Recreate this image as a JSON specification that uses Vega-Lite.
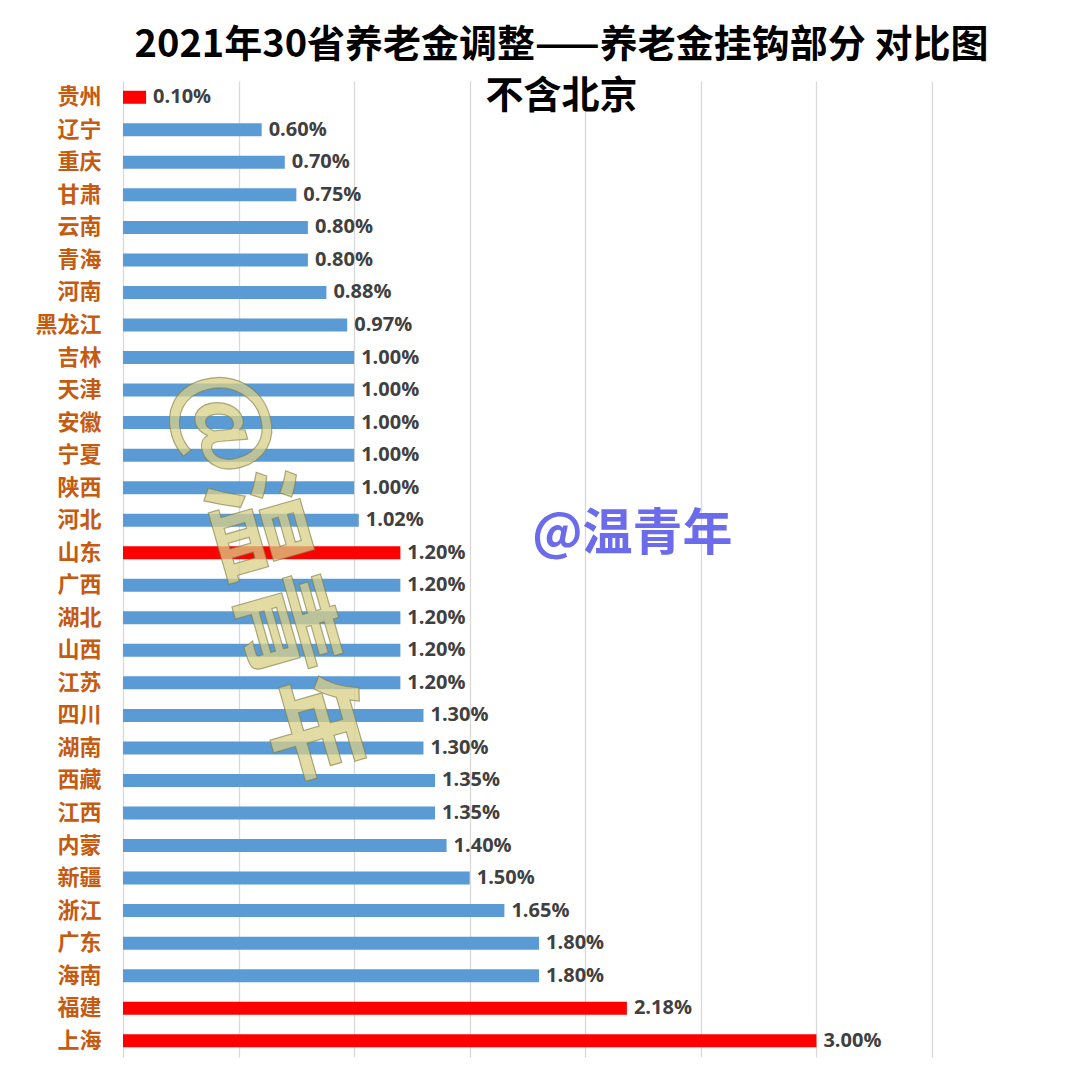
{
  "$schema": "https://vega.github.io/schema/vega-lite/v6.json",
  "autosize": "none",
  "width": 809,
  "height": 976,
  "padding": {"left": 123, "top": 81, "right": 148, "bottom": 14},
  "background": "white",
  "title": {
    "text": ["2021年30省养老金调整——养老金挂钩部分  对比图", "不含北京"],
    "anchor": "middle",
    "dx": 34,
    "offset": -35,
    "lineHeight": 51,
    "font": "Noto Sans CJK SC",
    "fontSize": 38,
    "fontWeight": "bold",
    "color": "#000000"
  },
  "config": {
    "view": {"stroke": null},
    "axis": {"domain": false, "ticks": false}
  },
  "datasets": {
    "省份数据": [
      {"省份": "贵州", "挂钩比例": 0.0010, "标注": "是"},
      {"省份": "辽宁", "挂钩比例": 0.0060, "标注": "否"},
      {"省份": "重庆", "挂钩比例": 0.0070, "标注": "否"},
      {"省份": "甘肃", "挂钩比例": 0.0075, "标注": "否"},
      {"省份": "云南", "挂钩比例": 0.0080, "标注": "否"},
      {"省份": "青海", "挂钩比例": 0.0080, "标注": "否"},
      {"省份": "河南", "挂钩比例": 0.0088, "标注": "否"},
      {"省份": "黑龙江", "挂钩比例": 0.0097, "标注": "否"},
      {"省份": "吉林", "挂钩比例": 0.0100, "标注": "否"},
      {"省份": "天津", "挂钩比例": 0.0100, "标注": "否"},
      {"省份": "安徽", "挂钩比例": 0.0100, "标注": "否"},
      {"省份": "宁夏", "挂钩比例": 0.0100, "标注": "否"},
      {"省份": "陕西", "挂钩比例": 0.0100, "标注": "否"},
      {"省份": "河北", "挂钩比例": 0.0102, "标注": "否"},
      {"省份": "山东", "挂钩比例": 0.0120, "标注": "是"},
      {"省份": "广西", "挂钩比例": 0.0120, "标注": "否"},
      {"省份": "湖北", "挂钩比例": 0.0120, "标注": "否"},
      {"省份": "山西", "挂钩比例": 0.0120, "标注": "否"},
      {"省份": "江苏", "挂钩比例": 0.0120, "标注": "否"},
      {"省份": "四川", "挂钩比例": 0.0130, "标注": "否"},
      {"省份": "湖南", "挂钩比例": 0.0130, "标注": "否"},
      {"省份": "西藏", "挂钩比例": 0.0135, "标注": "否"},
      {"省份": "江西", "挂钩比例": 0.0135, "标注": "否"},
      {"省份": "内蒙", "挂钩比例": 0.0140, "标注": "否"},
      {"省份": "新疆", "挂钩比例": 0.0150, "标注": "否"},
      {"省份": "浙江", "挂钩比例": 0.0165, "标注": "否"},
      {"省份": "广东", "挂钩比例": 0.0180, "标注": "否"},
      {"省份": "海南", "挂钩比例": 0.0180, "标注": "否"},
      {"省份": "福建", "挂钩比例": 0.0218, "标注": "是"},
      {"省份": "上海", "挂钩比例": 0.0300, "标注": "是"}
    ],
    "水印": [{"文字": "@温青年", "横向": 0.0062, "纵向": "山东"}]
  },
  "layer": [
    {
      "data": {"name": "省份数据"},
      "mark": {"type": "bar"},
      "encoding": {
        "y": {
          "field": "省份",
          "type": "nominal",
          "sort": null,
          "scale": {"paddingInner": 0.6, "paddingOuter": 0.3},
          "axis": {
            "title": null,
            "grid": false,
            "labelFont": "Noto Sans CJK SC",
            "labelFontSize": 22,
            "labelFontWeight": "bold",
            "labelColor": "#C55A11",
            "labelPadding": 22
          }
        },
        "x": {
          "field": "挂钩比例",
          "type": "quantitative",
          "scale": {"domain": [0, 0.035], "nice": false},
          "axis": {
            "title": null,
            "labels": false,
            "values": [0, 0.005, 0.01, 0.015, 0.02, 0.025, 0.03, 0.035],
            "grid": true,
            "gridColor": "#D9D9D9",
            "gridWidth": 1.3
          }
        },
        "color": {
          "field": "标注",
          "type": "nominal",
          "scale": {"domain": ["是", "否"], "range": ["#FF0000", "#5B9BD5"]},
          "legend": null
        }
      }
    },
    {
      "data": {"name": "省份数据"},
      "mark": {
        "type": "text",
        "align": "left",
        "baseline": "middle",
        "dx": 7,
        "font": "Open Sans",
        "fontSize": 20,
        "fontWeight": "bold",
        "color": "#404040"
      },
      "encoding": {
        "y": {"field": "省份", "type": "nominal", "sort": null},
        "x": {"field": "挂钩比例", "type": "quantitative"},
        "text": {"field": "挂钩比例", "type": "quantitative", "format": ".2%"}
      }
    },
    {
      "data": {"name": "水印"},
      "mark": {
        "type": "text",
        "align": "center",
        "baseline": "middle",
        "angle": 74,
        "font": "Noto Sans CJK SC",
        "fontSize": 106,
        "fontWeight": "bold",
        "fill": "#D8CF86",
        "fillOpacity": 0.75,
        "stroke": "#7A7A45",
        "strokeWidth": 1.2,
        "strokeOpacity": 0.6
      },
      "encoding": {
        "text": {"field": "文字", "type": "nominal"},
        "x": {"field": "横向", "type": "quantitative"},
        "y": {"field": "纵向", "type": "nominal", "sort": null},
        "yOffset": {"value": 30}
      }
    },
    {
      "data": {"name": "水印"},
      "mark": {
        "type": "text",
        "align": "center",
        "baseline": "middle",
        "dx": 366,
        "dy": -18,
        "font": "Noto Sans CJK SC",
        "fontSize": 50,
        "fontWeight": "bold",
        "color": "#6B6BEB"
      },
      "encoding": {
        "text": {"field": "文字", "type": "nominal"},
        "x": {"field": "横向", "type": "quantitative"},
        "y": {"field": "纵向", "type": "nominal", "sort": null}
      }
    }
  ]
}
